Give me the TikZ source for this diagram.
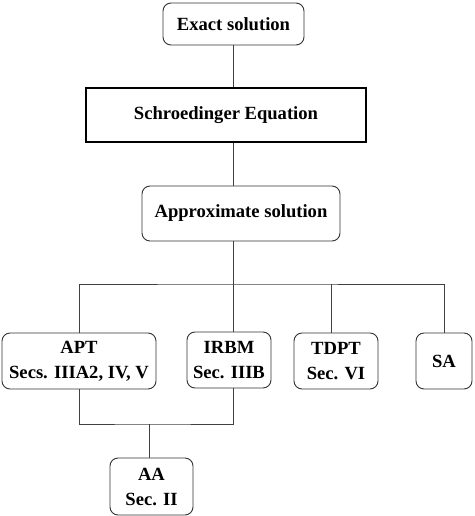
\documentclass[tikz,border=0pt]{standalone}
\usepackage{fontspec}
\setmainfont{Liberation Serif}
\usetikzlibrary{positioning}

\tikzset{
  block/.style={draw=black!80, rounded corners=8pt, align=center, inner sep=0pt,
    line width=0.9pt, font=\bfseries\fontsize{18.6}{25}\selectfont},
  mainblock/.style={block, draw=black, rounded corners=0pt, line width=2.4pt},
  link/.style={draw=black!75, line width=0.8pt}
}

\begin{document}
\begin{tikzpicture}[x=1pt, y=-1pt]
    \useasboundingbox (0,0) rectangle (474,516);

    \node [block, minimum width=141pt, minimum height=42pt] (exact) at (233.5,24) {Exact solution};
    \node [mainblock, minimum width=280pt, minimum height=54pt] (schr) at (226,115) {Schroedinger Equation};
    \node [block, minimum width=198pt, minimum height=55pt] (approx) at (241,213.5) {Approximate solution};

    \node [block, minimum width=154pt, minimum height=56pt] (apt) at (79,361) {APT\\Secs. IIIA2, IV, V};
    \node [block, minimum width=84pt, minimum height=56pt] (irbm) at (229,360) {IRBM\\Sec. IIIB};
    \node [block, minimum width=84pt, minimum height=56pt] (tdpt) at (336,361) {TDPT\\Sec. VI};
    \node [block, minimum width=56pt, minimum height=56pt] (sa) at (444,361) {SA};
    \node [block, minimum width=83pt, minimum height=57pt] (aa) at (151.5,486.5) {AA\\Sec. II};

    \coordinate (bus) at (233.5,284);
    \coordinate (join) at (149,424);

    \draw [link] (exact.south) -- (exact.south |- schr.north);
    \draw [link] (exact.south |- schr.south) -- (exact.south |- approx.north);
    \draw [link] (exact.south |- approx.south) -- (exact.south |- irbm.north);
    \draw [link] (apt.north) |- (bus) -| (sa.north);
    \draw [link] ([xshift=-5pt]tdpt.north) -- ([xshift=-5pt]tdpt.north |- bus);
    \draw [link] (apt.south) |- (join) -| (exact.south |- irbm.south);
    \draw [link] (join) -- (join |- aa.north);
\end{tikzpicture}
\end{document}
